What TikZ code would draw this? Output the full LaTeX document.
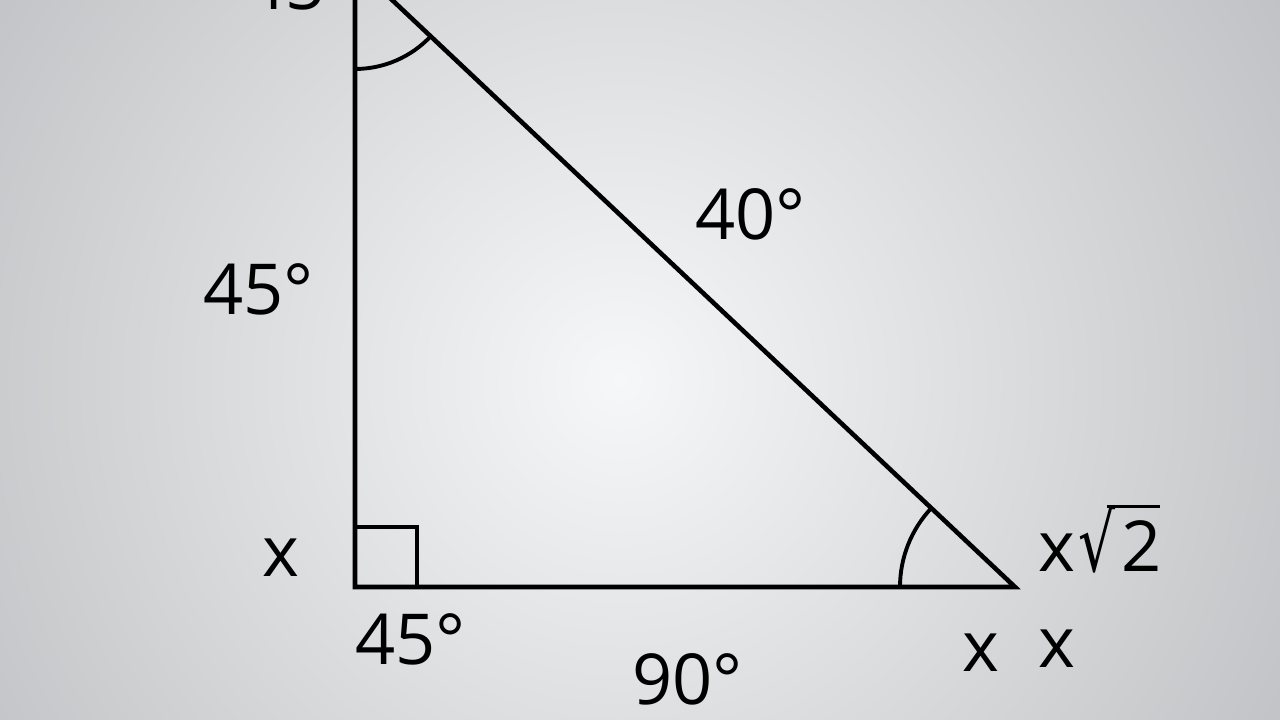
\documentclass[tikz,border=0pt]{standalone}
\usepackage{fontspec}
\setmainfont{Open Sans}
\newfontfamily\symfont{DejaVu Sans}
\definecolor{bgin}{RGB}{246,247,248}
\definecolor{bgout}{RGB}{188,190,193}
% radical made of the DejaVu sign and a bar over the radicand
\newcommand{\rootof}[1]{\kern2pt\scalebox{0.72}[1]{\symfont\fontsize{46}{46}\selectfont √}\kern-5pt%
  \rlap{\rule[36.4pt]{30pt}{1.6pt}}\kern8pt#1}
\begin{document}
\begin{tikzpicture}[x=0.2mm,y=0.2mm,
  lbl/.style={inner sep=0pt,anchor=base west,font=\fontsize{40}{48}\selectfont},
  side/.style={line width=2.6pt},
  anglemark/.style={line width=2.2pt}]
\useasboundingbox (0,0) rectangle (1280,720);
\clip (0,0) rectangle (1280,720);
% background
\shade[inner color=bgin,outer color=bgout] (620,340) circle (820);
% triangle
\coordinate (A) at (355,755);
\coordinate (C) at (355,133);
\coordinate (B) at (1015,133);
\draw[side] (A) -- (C) -- (B) -- cycle;
% angle marks
\draw[anglemark] ([shift={(270:104)}]A) arc[start angle=270,end angle=316.7,radius=104];
\draw[anglemark] ([shift={(180:115)}]B) arc[start angle=180,end angle=136.7,radius=115];
\draw[anglemark] ([shift={(0,60)}]C) -- ++(62,0) -- ++(0,-60);
% labels
\node[lbl] (topang) at (245,710) {45°};
\node[lbl] (leftang) at (203,405) {45°};
\node[lbl] (hypang) at (695,480) {40°};
\node[lbl] (leftx) at (262,143) {x};
\node[lbl] (botang) at (355,55) {45°};
\node[lbl] (rightang) at (632,15) {90°};
\node[lbl] (botx) at (962,48) {x};
\node[lbl] (farx) at (1038,52) {x};
\node[lbl] (hypx) at (1038,148) {x\rootof{2}};
\end{tikzpicture}
\end{document}
